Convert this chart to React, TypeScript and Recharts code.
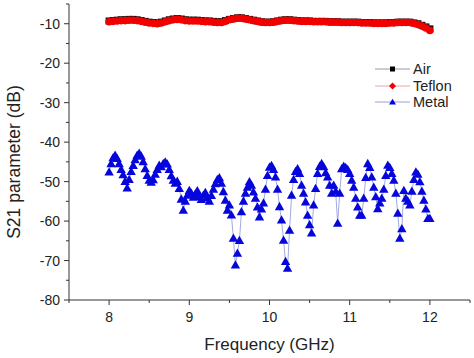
import React from 'react';
import { LineChart, Line, XAxis, YAxis, Legend } from 'recharts';

const AIR = [
  -9.3, -9.2, -9.1, -9.0, -9.0, -8.9, -8.9, -9.0, -9.2, -9.4, -9.6, -9.7, -9.8, -9.6, -9.3, -9.0, -8.8, -8.7,
  -8.8, -9.0, -9.1, -9.1, -9.1, -9.2, -9.3, -9.3, -9.4, -9.5, -9.5, -9.2, -8.9, -8.7, -8.5, -8.5, -8.7, -8.9,
  -9.1, -9.3, -9.5, -9.6, -9.6, -9.5, -9.3, -9.1, -9.0, -9.0, -9.1, -9.2, -9.3, -9.3, -9.3, -9.4, -9.4, -9.4,
  -9.4, -9.5, -9.5, -9.5, -9.6, -9.6, -9.6, -9.6, -9.6, -9.7, -9.7, -9.7, -9.8, -9.8, -9.8, -9.8, -9.7, -9.7,
  -9.6, -9.6, -9.6, -9.6, -9.8, -10.0, -10.4, -10.8, -11.3,
];

const TEFLON = [
  -9.5, -9.4, -9.3, -9.2, -9.2, -9.1, -9.1, -9.2, -9.4, -9.6, -9.8, -9.9, -10.0, -9.8, -9.5, -9.2, -9.0, -8.9,
  -9.0, -9.2, -9.3, -9.3, -9.3, -9.4, -9.5, -9.5, -9.6, -9.7, -9.7, -9.4, -9.0, -8.8, -8.6, -8.6, -8.8, -9.0,
  -9.2, -9.4, -9.6, -9.7, -9.7, -9.6, -9.4, -9.2, -9.1, -9.1, -9.2, -9.3, -9.4, -9.4, -9.4, -9.5, -9.5, -9.5,
  -9.5, -9.6, -9.6, -9.6, -9.7, -9.7, -9.7, -9.7, -9.7, -9.8, -9.8, -9.8, -9.9, -9.9, -9.9, -9.9, -9.8, -9.8,
  -9.7, -9.7, -9.7, -9.7, -9.9, -10.2, -10.6, -11.1, -11.7,
];

const METAL = [
  -47.6, -45.5, -44.0, -43.4, -44.2, -45.5, -47.0, -48.3, -50.0, -51.7,
  -49.5, -47.5, -46.0, -44.5, -43.4, -42.9, -43.6, -45.0, -46.8, -48.5,
  -49.7, -50.2, -49.6, -48.2, -47.0, -45.9, -46.3, -45.5, -45.1, -45.6,
  -47.0, -48.6, -49.7, -50.5, -50.0, -51.8, -54.5, -57.3, -55.0, -53.5,
  -52.3, -53.0, -54.0, -53.2, -52.4, -53.8, -54.6, -53.5, -52.8, -54.2,
  -55.0, -53.6, -52.0, -50.6, -49.5, -49.1, -50.5, -52.6, -54.8, -57.3,
  -56.0, -58.5, -64.4, -71.2, -68.2, -65.0, -57.7, -55.0, -53.0, -51.5,
  -50.1, -51.0, -52.7, -54.3, -56.5, -59.0, -57.0, -55.5, -52.0, -48.5,
  -46.4, -46.0, -47.0, -48.9, -52.0, -56.4, -59.8, -64.9, -70.3, -72.0,
  -62.4, -53.5, -49.5, -47.5, -46.8, -48.0, -51.0, -53.0, -55.2, -58.6,
  -61.0, -63.1, -56.0, -51.8, -48.0, -46.2, -45.5, -46.3, -47.8, -48.9,
  -51.0, -53.0, -51.0, -52.5, -60.6, -53.0, -46.8, -46.2, -46.5, -47.0,
  -48.0, -49.7, -51.5, -54.3, -56.5, -58.6, -58.6, -54.3, -49.0, -45.5,
  -46.5, -48.9, -51.5, -53.9, -56.9, -55.5, -54.3, -52.0, -48.5, -45.9,
  -46.5, -48.0, -49.7, -53.0, -58.1, -64.4, -62.0, -52.3, -54.3, -55.0,
  -56.0, -52.5, -49.5, -47.6, -48.2, -50.1, -52.5, -54.8, -57.0, -59.4,
  -59.4,
];

const F_START = 8;
const F_END = 12;
const X_TICKS = [7.5, 8, 8.5, 9, 9.5, 10, 10.5, 11, 11.5, 12, 12.5];
const Y_TICKS = [-80, -75, -70, -65, -60, -55, -50, -45, -40, -35, -30, -25, -20, -15, -10, -5];
const SERIES_NAMES = ['Air', 'Teflon', 'Metal'];

const toPts = (vals: number[]) =>
  vals.map((v, i) => ({ f: F_START + ((F_END - F_START) * i) / (vals.length - 1), v }));

const airData = toPts(AIR);
const teflonData = toPts(TEFLON);
const metalData = toPts(METAL);

const FONT = '"Liberation Sans", Arial, sans-serif';
const AXIS = '#333';
const TEXT = '#222';

const XTick = (props: any) => {
  const { x, y, payload } = props;
  const major = Number.isInteger(payload.value);
  return (
    <g>
      <line x1={x} x2={x} y1={y} y2={y + (major ? 5 : 3)} stroke={AXIS} strokeWidth={1} />
      {major && (
        <text x={x} y={y + 22} textAnchor="middle" fontSize={14} fill={TEXT} fontFamily={FONT}>
          {payload.value}
        </text>
      )}
    </g>
  );
};

const YTick = (props: any) => {
  const { x, y, payload } = props;
  const major = payload.value % 10 === 0;
  return (
    <g>
      <line x1={x} x2={x - (major ? 5 : 3)} y1={y} y2={y} stroke={AXIS} strokeWidth={1} />
      {major && (
        <text x={x - 9} y={y + 5} textAnchor="end" fontSize={14} fill={TEXT} fontFamily={FONT}>
          {payload.value}
        </text>
      )}
    </g>
  );
};

const Tri = (props: any) => {
  const { cx, cy, index } = props;
  if (cx == null || cy == null) return <g key={`m${index}`} />;
  return (
    <path
      key={`m${index}`}
      d={`M${cx},${cy - 5} L${cx + 4.7},${cy + 3.3} L${cx - 4.7},${cy + 3.3} Z`}
      fill="#0606dc"
    />
  );
};

const Sq = (props: any) => {
  const { cx, cy, index } = props;
  if (cx == null || cy == null) return <g key={`a${index}`} />;
  return <rect key={`a${index}`} x={cx - 3.5} y={cy - 3.5} width={7} height={7} fill="#111" />;
};

const Circ = (props: any) => {
  const { cx, cy, index } = props;
  if (cx == null || cy == null) return <g key={`t${index}`} />;
  return <circle key={`t${index}`} cx={cx} cy={cy} r={3.8} fill="#f20000" />;
};

const LegendContent = () => {
  const rows = [
    { name: SERIES_NAMES[0], line: '#9a9a9a', marker: <rect x={15} y={4.5} width={5} height={5} fill="#000" /> },
    { name: SERIES_NAMES[1], line: '#f4a0a0', marker: <path d="M17.5,3.5 L21,7 L17.5,10.5 L14,7 Z" fill="#f00000" /> },
    { name: SERIES_NAMES[2], line: '#a0a0d8', marker: <path d="M17.5,3.8 L21,9.5 L14,9.5 Z" fill="#0000e0" /> },
  ];
  return (
    <div style={{ fontFamily: FONT, fontSize: 14.5, color: TEXT }}>
      {rows.map((r) => (
        <div key={r.name} style={{ display: 'flex', alignItems: 'center', height: 16.5 }}>
          <svg width={38} height={14} style={{ display: 'block' }}>
            <line x1={0} x2={35} y1={7} y2={7} stroke={r.line} strokeWidth={1} />
            {r.marker}
          </svg>
          <span style={{ lineHeight: '16px' }}>{r.name}</span>
        </div>
      ))}
    </div>
  );
};

export default function App() {
  return (
    <div style={{ position: 'absolute', left: 0, top: 0, width: 474, height: 358, background: '#fff' }}>
      <LineChart width={474} height={358} margin={{ top: 4, right: 4, bottom: 0, left: 9 }}>
        <XAxis
          type="number"
          dataKey="f"
          domain={[7.5, 12.5]}
          ticks={X_TICKS}
          interval={0}
          tickSize={0}
          tickMargin={0}
          tickLine={false}
          axisLine={{ stroke: AXIS, strokeWidth: 1 }}
          tick={<XTick />}
          height={58}
          allowDataOverflow
          label={{
            value: 'Frequency (GHz)',
            position: 'insideBottom',
            offset: 8,
            style: { fontFamily: FONT, fontSize: 17, fill: TEXT },
          }}
        />
        <YAxis
          type="number"
          domain={[-80, -5]}
          ticks={Y_TICKS}
          interval={0}
          tickSize={0}
          tickMargin={0}
          tickLine={false}
          axisLine={{ stroke: AXIS, strokeWidth: 1 }}
          tick={<YTick />}
          width={60}
          allowDataOverflow
          label={{
            content: () => (
              <text
                x={20}
                y={162}
                transform="rotate(-90, 20, 162)"
                textAnchor="middle"
                fontSize={17.5}
                fill={TEXT}
                fontFamily={FONT}
              >
                S21 parameter (dB)
              </text>
            ),
          }}
        />
        <Legend
          layout="horizontal"
          verticalAlign="middle"
          align="center"
          content={<LegendContent />}
          wrapperStyle={{ position: 'absolute', left: 375, top: 61, width: 100 }}
        />
        <Line
          data={airData}
          dataKey="v"
          name={SERIES_NAMES[0]}
          stroke="#333"
          strokeWidth={1}
          dot={Sq}
          isAnimationActive={false}
        />
        <Line
          data={teflonData}
          dataKey="v"
          name={SERIES_NAMES[1]}
          stroke="#ff3030"
          strokeWidth={1}
          dot={Circ}
          isAnimationActive={false}
        />
        <Line
          data={metalData}
          dataKey="v"
          name={SERIES_NAMES[2]}
          stroke="#8a94d8"
          strokeWidth={0.8}
          dot={Tri}
          isAnimationActive={false}
        />
      </LineChart>
    </div>
  );
}
